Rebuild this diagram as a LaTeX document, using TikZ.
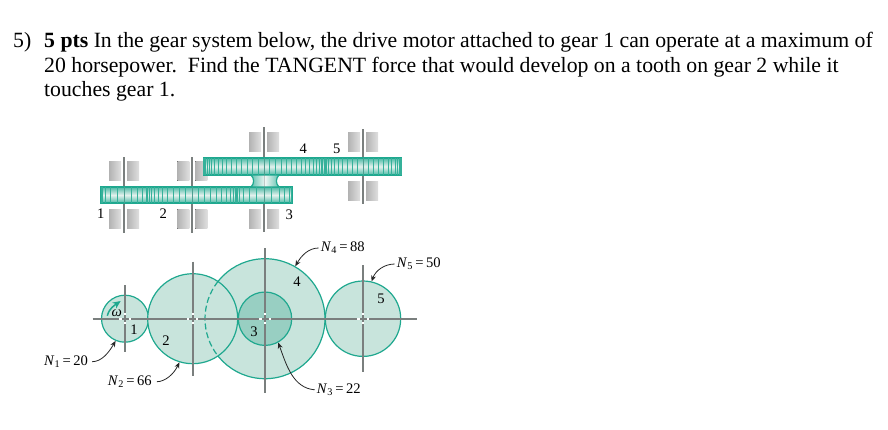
\documentclass[tikz,border=0pt]{standalone}
\usepackage{fontspec}
\usetikzlibrary{arrows.meta}
\setmainfont{Liberation Serif}
\definecolor{tealline}{HTML}{1FA88F}
\definecolor{tealpale}{HTML}{C8E4DC}
\definecolor{tealmid}{HTML}{98CFC2}
\definecolor{shaftgray}{HTML}{7A7F7E}
\tikzset{
  prose/.style={anchor=base west,inner sep=0pt,font=\fontsize{21.75}{26}\selectfont},
  tag/.style={inner sep=0pt,font=\fontsize{14.6}{16}\selectfont},
  gear/.style={circle,draw=tealline,line width=1.2pt,fill=tealpale,inner sep=0pt,minimum size=#1},
  shaft/.style={draw=shaftgray,line width=1.8pt},
  block/.style={left color=gray!60,right color=gray!25},
  tooth/.style={draw=tealline!90,line width=0.6pt},
  bar/.style={draw=tealline,line width=1.2pt,top color=tealline!80,bottom color=tealline!80,middle color=tealpale!50},
  leader/.style={-{Stealth[length=6pt,width=5pt]},line width=0.8pt,black!85},
}
\newcommand{\gearcount}[2]{\textit{N}\textsubscript{#1}\,=\,#2}
\begin{document}
\begin{tikzpicture}[x=1pt,y=1pt]
\useasboundingbox (0,-429) rectangle (888,0);

\node[prose] (num) at (13,-47.3) {5)};
\node[prose] (line1) at (44,-47.3) {\textbf{5 pts} In the gear system below, the drive motor attached to gear 1 can operate at a maximum of};
\node[prose] (line2) at (44,-72.3) {20 horsepower.\ \ Find the TANGENT force that would develop on a tooth on gear 2 while it};
\node[prose] (line3) at (44,-96.7) {touches gear 1.};

% side view
\foreach \x/\yt/\yb in {124/-157/-233,192.3/-157/-233,264/-127/-232,363/-129/-204}
  \draw[shaft] (\x,\yt) -- (\x,\yb);
\foreach \x/\y in {124/-161,124/-209,192.3/-161,192.3/-209,264/-132,264/-209,363/-132,363/-181}{
  \fill[block] (\x-15,\y) rectangle (\x-3,\y-19.5);
  \fill[block] (\x+3,\y) rectangle (\x+15,\y-19.5);
}
\draw[bar] (204,-158) rectangle (401,-175);
\draw[bar] (101,-187) rectangle (292,-203);
\draw[tealline,line width=1.2pt,left color=tealline!70,right color=tealline!70,middle color=white!70!tealpale]
  (251,-175) .. controls (254.5,-179) and (254.5,-183) .. (251,-187) -- (279,-187)
  .. controls (275.5,-183) and (275.5,-179) .. (279,-175) -- cycle;
\foreach \cx/\R/\N/\yt/\yb in {124/23/20/-187/-203,192/45/44/-187/-203,264/27.5/22/-187/-203,264/60.5/66/-158/-175,363/38/44/-158/-175}{
  \pgfmathtruncatemacro{\nq}{\N/4}
  \foreach \i in {-\nq,...,\nq}
    \draw[tooth] ({\cx+\R*sin(\i*360/\N)},\yt) -- ({\cx+\R*sin(\i*360/\N)},\yb);
}
\foreach \x/\yt/\yb in {124/-187/-203,192.3/-187/-203,264/-158/-203,363/-158/-175}
  \draw[shaftgray,opacity=0.35,line width=1pt] (\x,\yt) -- (\x,\yb);

\node[tag] (s1) at (100.7,-214) {1};
\node[tag] (s2) at (163.3,-214) {2};
\node[tag] (s3) at (289.3,-214.7) {3};
\node[tag] (s4) at (303.3,-149) {4};
\node[tag] (s5) at (336.7,-149) {5};

% end view
\node[gear=120pt] (g4) at (265,-318.7) {};
\node[gear=53.4pt,fill=tealmid] (g3) at (265,-318.7) {};
\node[gear=75.4pt] (g5) at (363,-318.7) {};
\node[gear=47pt] (g1) at (125,-318.7) {};
\node[gear=90pt] (g2) at (192.7,-318.7) {};
\draw[tealline,line width=1.2pt,dash pattern=on 6pt off 3pt] (g4.center) ++(141.6:60) arc (141.6:218.4:60);

\draw[shaft] (92.7,-318.7) -- (416.7,-318.7);
\foreach \x/\yt/\yb in {125/-285/-352,192.7/-261.7/-375.7,265/-248/-392.7,363/-265/-371.7}
  \draw[shaft] (\x,\yt) -- (\x,\yb);
\foreach \g in {g1,g2,g4,g5}
  \foreach \a in {0,90,180,270}
    \draw[white,line width=2pt] (\g.center) ++(\a:3.5) -- ++(\a:2.2);

\node[tag] (e1) at (134,-329.3) {1};
\node[tag] (e2) at (166,-340.3) {2};
\node[tag] (e3) at (254,-331.3) {3};
\node[tag] (e4) at (297,-282) {4};
\node[tag] (e5) at (381,-298.3) {5};
\node[tag] (om) at (116.7,-312.7) {\textit{ω}};
\coordinate (omstart) at (107.3,-315.7);
\coordinate (omend) at (120.7,-301);
\draw[-{Stealth[length=8pt,width=7pt]},tealline,line width=1.5pt] (omstart) to[out=75,in=215] (omend);

\node[tag,anchor=west] (n1) at (44,-361.7) {\gearcount{1}{20}};
\node[tag,anchor=west] (n2) at (107.7,-381.7) {\gearcount{2}{66}};
\node[tag,anchor=west] (n3) at (316.7,-390) {\gearcount{3}{22}};
\node[tag,anchor=west] (n4) at (320.7,-248) {\gearcount{4}{88}};
\node[tag,anchor=west] (n5) at (396.7,-264) {\gearcount{5}{50}};

\draw[leader,shorten <=4pt] (n1.east) to[out=0,in=-120] (g1.-113);
\draw[leader,shorten <=5pt] (n2.east) to[out=0,in=-115] (g2.-107);
\draw[leader,shorten <=2pt] (n3.west) to[out=175,in=-70] (g3.-61);
\draw[leader,shorten <=2pt] (n4.west) to[out=180,in=60] (g4.60);
\draw[leader,shorten <=2pt] (n5.west) to[out=180,in=70] (g5.77);
\end{tikzpicture}
\end{document}
